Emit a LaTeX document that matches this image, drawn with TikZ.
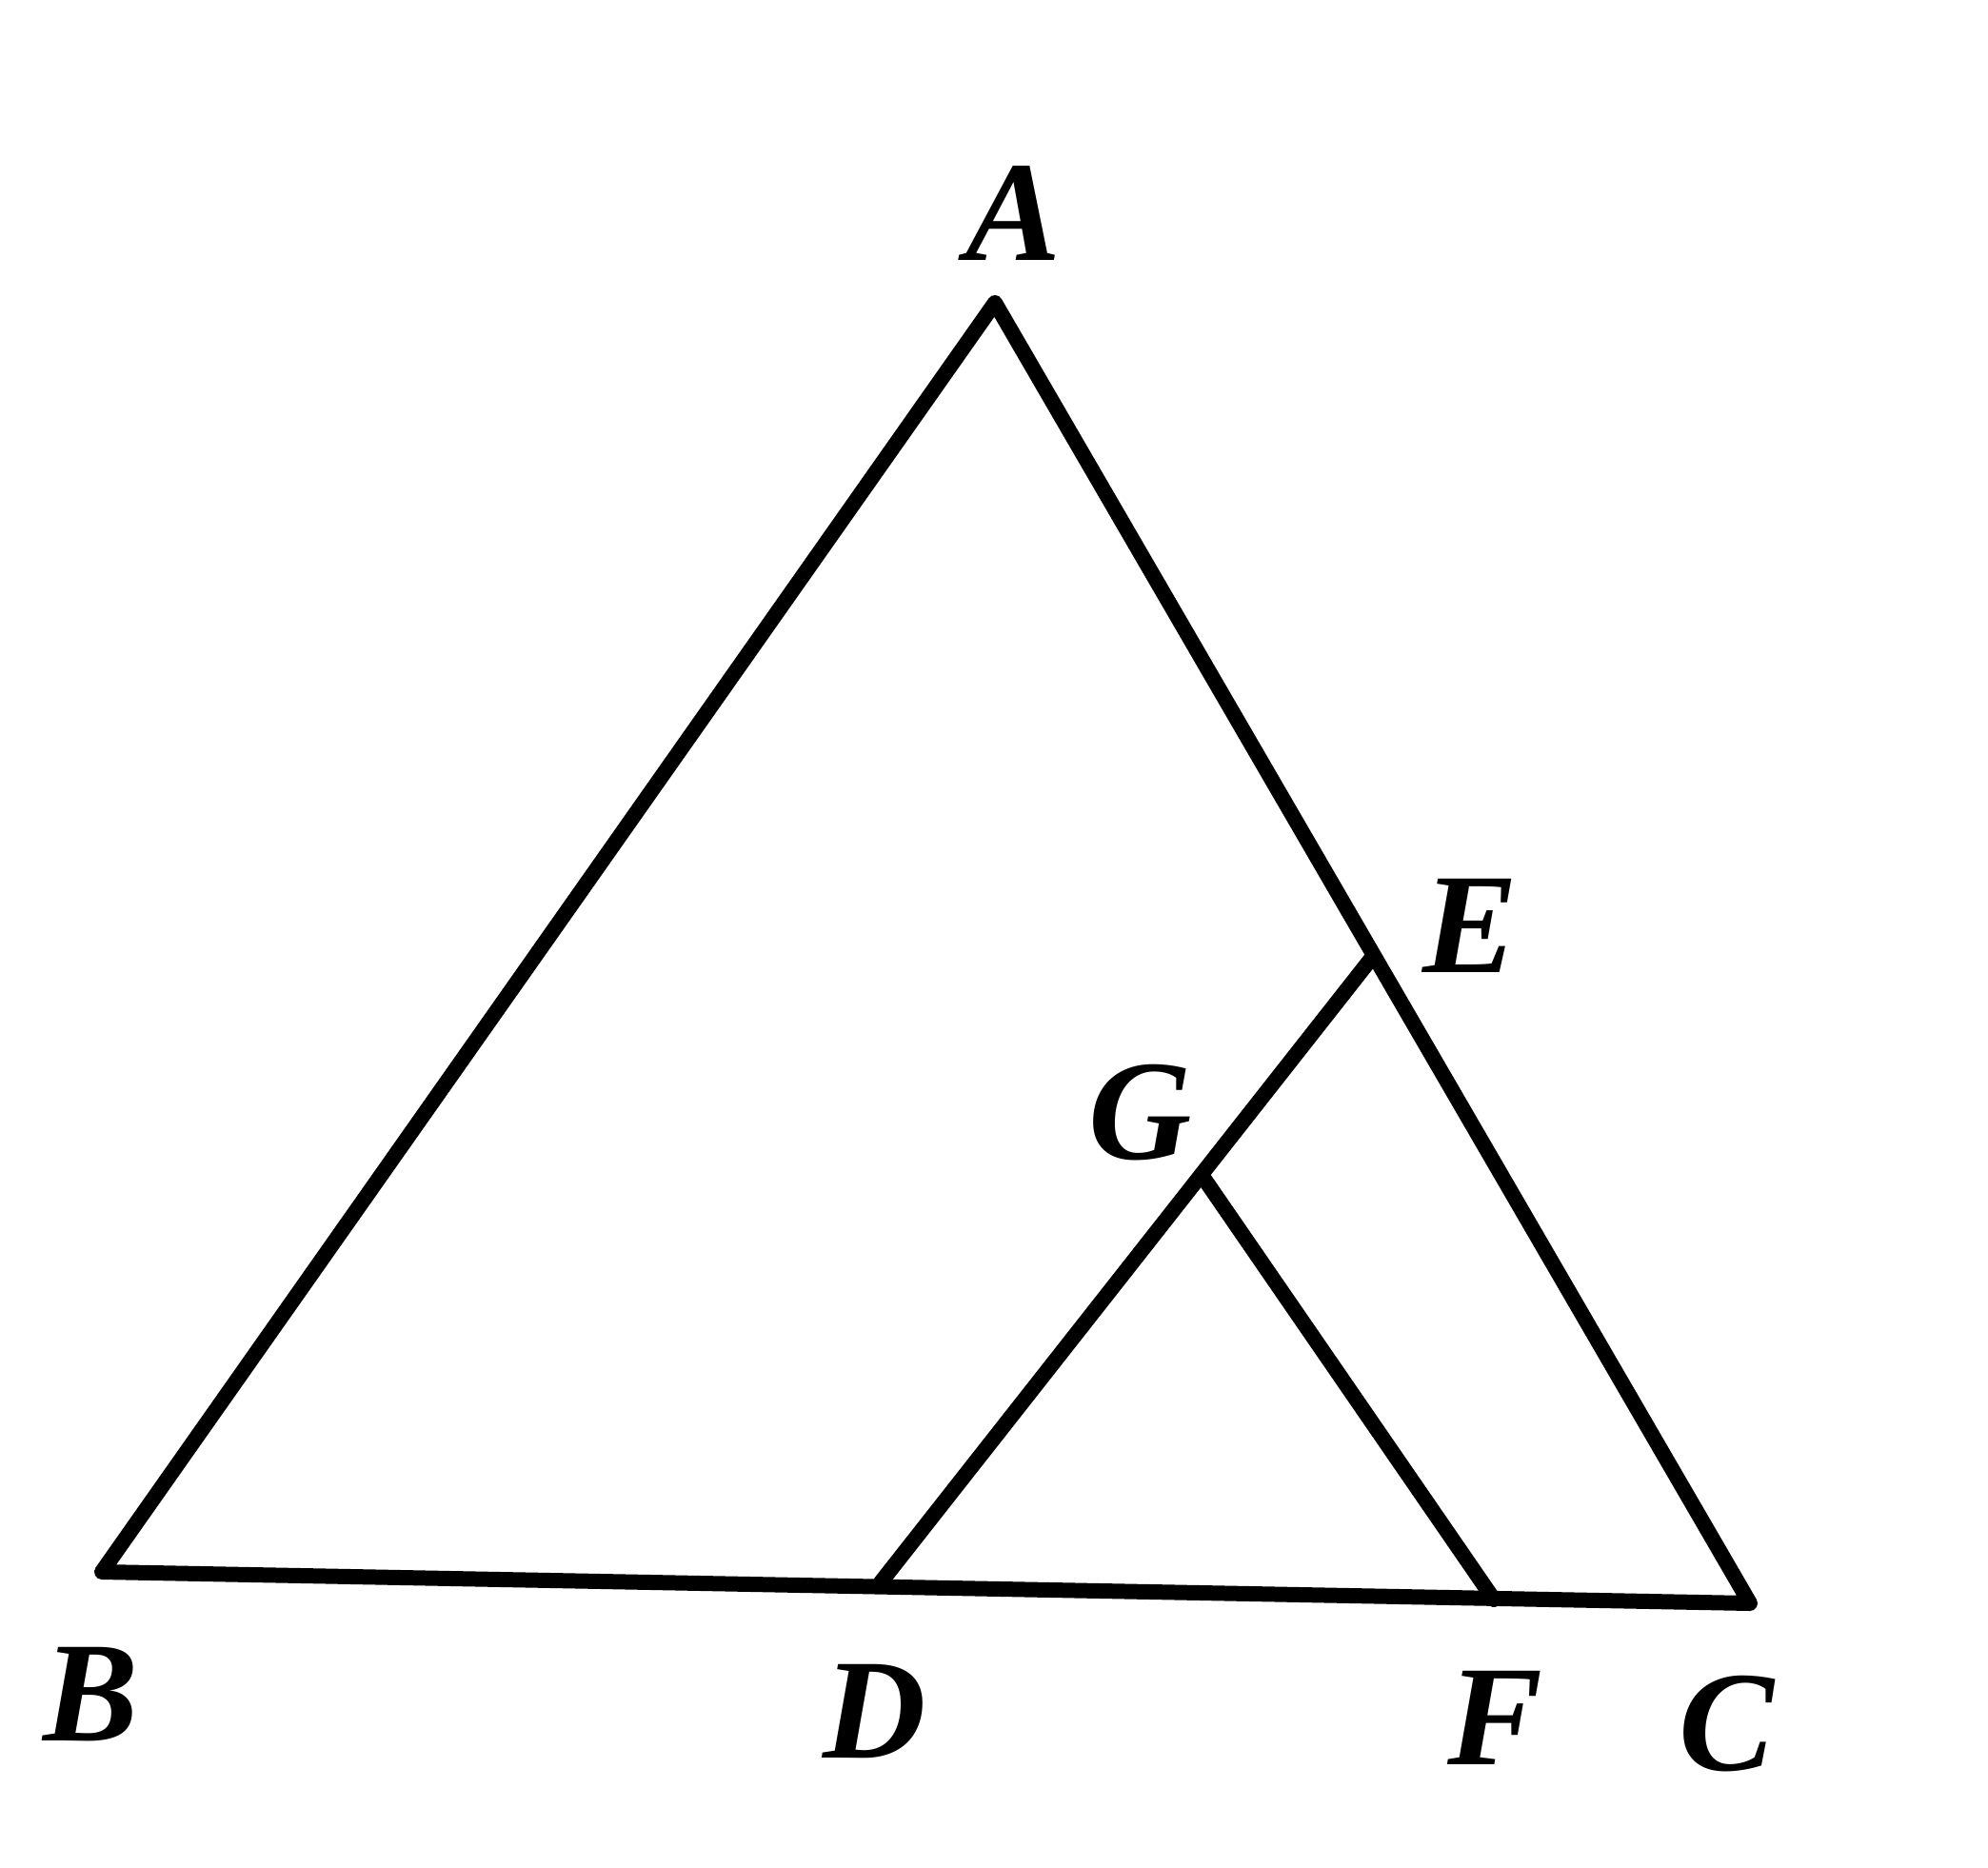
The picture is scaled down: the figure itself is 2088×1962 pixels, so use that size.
\documentclass[tikz,border=0pt]{standalone}
\usepackage{fontspec}
\setmainfont{Liberation Serif}
\begin{document}
\begin{tikzpicture}[x=1pt,y=-1pt,
  seg/.style={line width=16pt,line join=round,line cap=round},
  lbl/.style={font=\fontsize{150}{160}\selectfont\bfseries\itshape,inner sep=0pt}]
\useasboundingbox (0,0) rectangle (2088,1962);
\coordinate (A) at (1045,318);
\coordinate (B) at (107,1651);
\coordinate (C) at (1838,1684);
\coordinate (D) at (925,1662);
\coordinate (F) at (1569,1680);
\coordinate (E) at (1440,1007);
\coordinate (G) at (1262,1234);
\draw[seg] (A) -- (B) -- (C) -- cycle;
\draw[seg] (D) -- (E);
\draw[seg] (G) -- (F);
\node[lbl] (lA) at (1065,224) {A};
\node[lbl] (lB) at (96,1780) {B};
\node[lbl] (lD) at (919,1798) {D};
\node[lbl] (lF) at (1571,1804) {F};
\node[lbl] (lC) at (1814,1811) {C};
\node[lbl] (lE) at (1545,972) {E};
\node[lbl] (lG) at (1198,1169) {G};
\end{tikzpicture}
\end{document}
